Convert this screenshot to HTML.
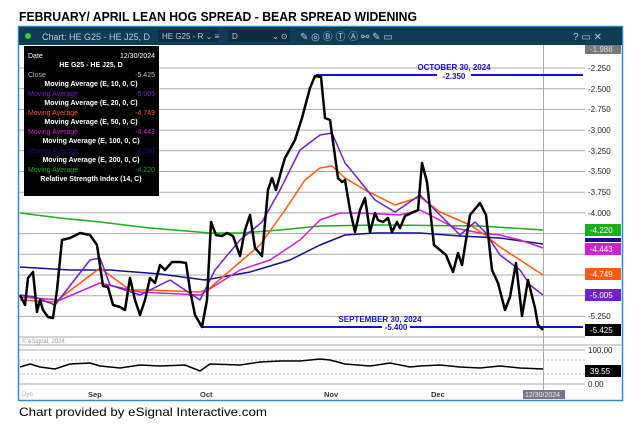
<!DOCTYPE html>
<html><head><meta charset="utf-8"><style>
body{margin:0;background:#fff;width:644px;height:426px;overflow:hidden;font-family:"Liberation Sans",sans-serif}
</style></head><body>
<svg width="644" height="426" xmlns="http://www.w3.org/2000/svg" font-family="Liberation Sans, sans-serif">
<rect width="644" height="426" fill="#fff"/>
<text x="19" y="21" font-size="13" font-weight="bold" fill="#000" textLength="398" lengthAdjust="spacingAndGlyphs">FEBRUARY/ APRIL LEAN HOG SPREAD -   BEAR SPREAD WIDENING</text>
<rect x="18.5" y="26.5" width="604" height="374" fill="#fff" stroke="#2a8bd0" stroke-width="1.5"/>
<rect x="19" y="27" width="603" height="18" fill="#0f3d55"/>
<circle cx="28" cy="36" r="3" fill="#3c3"/>
<text x="42" y="40" font-size="9" fill="#bcd">Chart: HE G25 - HE J25, D</text>
<rect x="158" y="30" width="60" height="12" fill="#0b2e42"/>
<text x="162" y="39" font-size="8" fill="#bcd">HE G25 - R ⌄ ≡</text>
<rect x="228" y="30" width="62" height="12" fill="#0b2e42"/>
<text x="232" y="39" font-size="8" fill="#bcd">D</text>
<text x="272" y="39" font-size="8" fill="#bcd">⌄ ⊙</text>
<text x="300" y="40" font-size="10" fill="#bcd">✎  ◎  Ⓑ  Ⓣ  Ⓐ  ⚯  ✎  ▭</text>
<text x="573" y="40" font-size="10" fill="#bcd">?   ▭   ✕</text>
<g stroke="#aaa" stroke-width="1">
<line x1="19" x2="585" y1="68" y2="68"/><line x1="19" x2="585" y1="88.7" y2="88.7"/><line x1="19" x2="585" y1="109.4" y2="109.4"/><line x1="19" x2="585" y1="130.1" y2="130.1"/><line x1="19" x2="585" y1="150.8" y2="150.8"/><line x1="19" x2="585" y1="171.5" y2="171.5"/><line x1="19" x2="585" y1="192.2" y2="192.2"/><line x1="19" x2="585" y1="212.9" y2="212.9"/><line x1="19" x2="585" y1="233.6" y2="233.6"/><line x1="19" x2="585" y1="254.3" y2="254.3"/><line x1="19" x2="585" y1="275" y2="275"/><line x1="19" x2="585" y1="295.7" y2="295.7"/><line x1="19" x2="585" y1="316.4" y2="316.4"/><line x1="19" x2="585" y1="337" y2="337"/>
<line x1="19" x2="622" y1="345" y2="345"/><line x1="19" x2="585" y1="350" y2="350"/><line x1="19" x2="585" y1="384" y2="384"/>
<line x1="543.5" x2="543.5" y1="45" y2="390"/>
</g>
<line x1="19" x2="585" y1="360" y2="360" stroke="#bbb" stroke-dasharray="2,2"/>
<line x1="19" x2="585" y1="374" y2="374" stroke="#bbb" stroke-dasharray="2,2"/>
<text x="22" y="343" font-size="6" fill="#999">© eSignal, 2024</text>
<text x="22" y="396" font-size="6" fill="#aab">Dyn</text>
<line x1="316" x2="583" y1="75" y2="75" stroke="#1111cc" stroke-width="2"/>
<line x1="202" x2="583" y1="327" y2="327" stroke="#1111cc" stroke-width="2"/>
<text x="454" y="70" font-size="8" font-weight="bold" fill="#1111cc" text-anchor="middle">OCTOBER 30, 2024</text>
<rect x="437" y="72" width="34" height="7" fill="#fff"/>
<text x="454" y="79" font-size="8" font-weight="bold" fill="#1111cc" text-anchor="middle">-2.350</text>
<text x="380" y="322" font-size="8" font-weight="bold" fill="#1111cc" text-anchor="middle">SEPTEMBER 30, 2024</text>
<rect x="382" y="324" width="28" height="7" fill="#fff"/>
<text x="396" y="330" font-size="8" font-weight="bold" fill="#1111cc" text-anchor="middle">-5.400</text>
<g fill="none" stroke-linejoin="round">
<polyline stroke="#1ab01a" stroke-width="1.5" points="20,213 60,218 100,222 150,228 210,233 240,233 280,230 320,226 380,225 480,226 543,230"/>
<polyline stroke="#101090" stroke-width="1.5" points="20,267 70,270 110,270 160,274 205,280 250,272 290,260 320,245 345,235 375,233 420,233 460,236 500,238 543,244"/>
<polyline stroke="#d020d0" stroke-width="1.5" points="20,297 60,300 100,283 140,292 200,295 240,270 270,260 300,240 320,220 340,213 360,213 400,215 420,210 455,228 480,233 500,235 520,240 543,248"/>
<polyline stroke="#ff5a10" stroke-width="1.5" points="20,300 55,302 100,268 130,290 150,290 200,292 210,288 240,262 260,245 285,210 305,180 320,168 332,166 345,178 365,190 395,205 420,197 440,212 470,225 485,235 500,247 520,260 543,275"/>
<polyline stroke="#7020c8" stroke-width="1.5" points="20,295 35,297 55,305 90,260 100,258 110,285 140,295 170,280 200,300 215,270 240,240 262,222 280,190 300,150 320,135 332,133 345,163 355,175 375,200 395,212 420,195 440,215 460,235 475,222 485,232 500,255 520,270 530,285 543,295"/>
<polyline stroke="#000" stroke-width="2.5" points="20,295 25,305 28,278 33,272 37,312 40,300 43,310 48,317 53,318 57,290 62,240 70,238 80,233 90,235 97,245 103,286 108,287 113,305 120,307 125,310 130,278 135,300 140,315 145,300 150,278 155,283 160,265 165,270 172,262 180,262 186,263 190,290 195,315 202,327 207,300 211,222 216,235 222,236 227,233 233,236 240,256 245,230 250,215 255,248 262,256 268,190 272,178 276,190 282,168 285,158 295,140 302,118 310,88 315,76 321,77 325,118 330,120 338,178 342,182 345,180 350,210 355,232 360,210 365,198 370,232 375,213 378,220 383,222 388,218 392,232 397,222 400,228 405,216 418,210 422,163 427,182 434,245 440,250 446,255 453,272 458,253 462,265 470,215 480,203 486,215 492,270 498,283 505,310 510,297 516,263 522,316 528,280 535,308 538,325 543,330"/>
<polyline stroke="#000" stroke-width="1.5" points="20,367 30,364 40,367 55,369 70,364 90,363 100,366 120,368 140,365 160,366 185,365 200,371 210,364 240,365 260,362 280,361 300,361 320,359 330,360 345,364 370,366 390,363 410,367 420,366 440,365 460,367 480,368 500,366 520,368 543,369"/>
</g>
<rect x="24" y="46" width="135" height="150" fill="#000"/>
<g font-size="7" fill="#fff">
<text x="28" y="58">Date</text><text x="155" y="58" text-anchor="end">12/30/2024</text>
<text x="91" y="67" text-anchor="middle" font-weight="bold">HE G25 - HE J25, D</text>
<text x="28" y="77" fill="#bbb">Close</text><text x="155" y="77" text-anchor="end" fill="#bbb">-5.425</text>
<text x="91" y="86" text-anchor="middle" font-weight="bold">Moving Average (E, 10, 0, C)</text>
<text x="28" y="96" fill="#7020c8">Moving Average</text><text x="155" y="96" text-anchor="end" fill="#7020c8">-5.005</text>
<text x="91" y="105" text-anchor="middle" font-weight="bold">Moving Average (E, 20, 0, C)</text>
<text x="28" y="115" fill="#ff5a10">Moving Average</text><text x="155" y="115" text-anchor="end" fill="#ff5a10">-4.749</text>
<text x="91" y="124" text-anchor="middle" font-weight="bold">Moving Average (E, 50, 0, C)</text>
<text x="28" y="134" fill="#d020d0">Moving Average</text><text x="155" y="134" text-anchor="end" fill="#d020d0">-4.443</text>
<text x="91" y="143" text-anchor="middle" font-weight="bold">Moving Average (E, 100, 0, C)</text>
<text x="28" y="153" fill="#101090">Moving Average</text><text x="155" y="153" text-anchor="end" fill="#101090">-4.280</text>
<text x="91" y="162" text-anchor="middle" font-weight="bold">Moving Average (E, 200, 0, C)</text>
<text x="28" y="172" fill="#1ab01a">Moving Average</text><text x="155" y="172" text-anchor="end" fill="#1ab01a">-4.220</text>
<text x="91" y="181" text-anchor="middle" font-weight="bold">Relative Strength Index (14, C)</text>
</g>
<g font-size="8" fill="#222">
<rect x="585" y="45" width="36" height="9" fill="#777"/><text x="590" y="52" fill="#ddd">-1.988</text>
<text x="588" y="71">-2.250</text><text x="588" y="92">-2.500</text><text x="588" y="112">-2.750</text><text x="588" y="133">-3.000</text><text x="588" y="154">-3.250</text><text x="588" y="174">-3.500</text><text x="588" y="195">-3.750</text><text x="588" y="216">-4.000</text><text x="588" y="319">-5.250</text>
<text x="588" y="353">100.00</text><text x="588" y="387">0.00</text>
</g>
<g font-size="8">
<rect x="585" y="224" width="36" height="12" fill="#1ab01a"/><text x="590" y="233" fill="#fff">-4.220</text>
<rect x="585" y="238" width="36" height="4" fill="#101090"/>
<rect x="585" y="243" width="36" height="12" fill="#d020d0"/><text x="590" y="252" fill="#fff">-4.443</text>
<rect x="585" y="268" width="36" height="12" fill="#ff5a10"/><text x="590" y="277" fill="#fff">-4.749</text>
<rect x="585" y="289" width="36" height="12" fill="#7020c8"/><text x="590" y="298" fill="#fff">-5.005</text>
<rect x="585" y="324" width="36" height="12" fill="#000"/><text x="590" y="333" fill="#fff">-5.425</text>
<rect x="585" y="365" width="36" height="12" fill="#000"/><text x="590" y="374" fill="#fff">39.55</text>
</g>
<g font-size="7.5" font-weight="bold" fill="#333">
<text x="88" y="397">Sep</text><text x="200" y="397">Oct</text><text x="324" y="397">Nov</text><text x="431" y="397">Dec</text>
</g>
<rect x="523" y="390" width="42" height="9" fill="#778"/><text x="525" y="397" font-size="7" fill="#eee">12/30/2024</text>
<text x="19" y="416" font-size="12" fill="#000" textLength="248" lengthAdjust="spacingAndGlyphs">Chart provided by eSignal Interactive.com</text>
</svg>
</body></html>
